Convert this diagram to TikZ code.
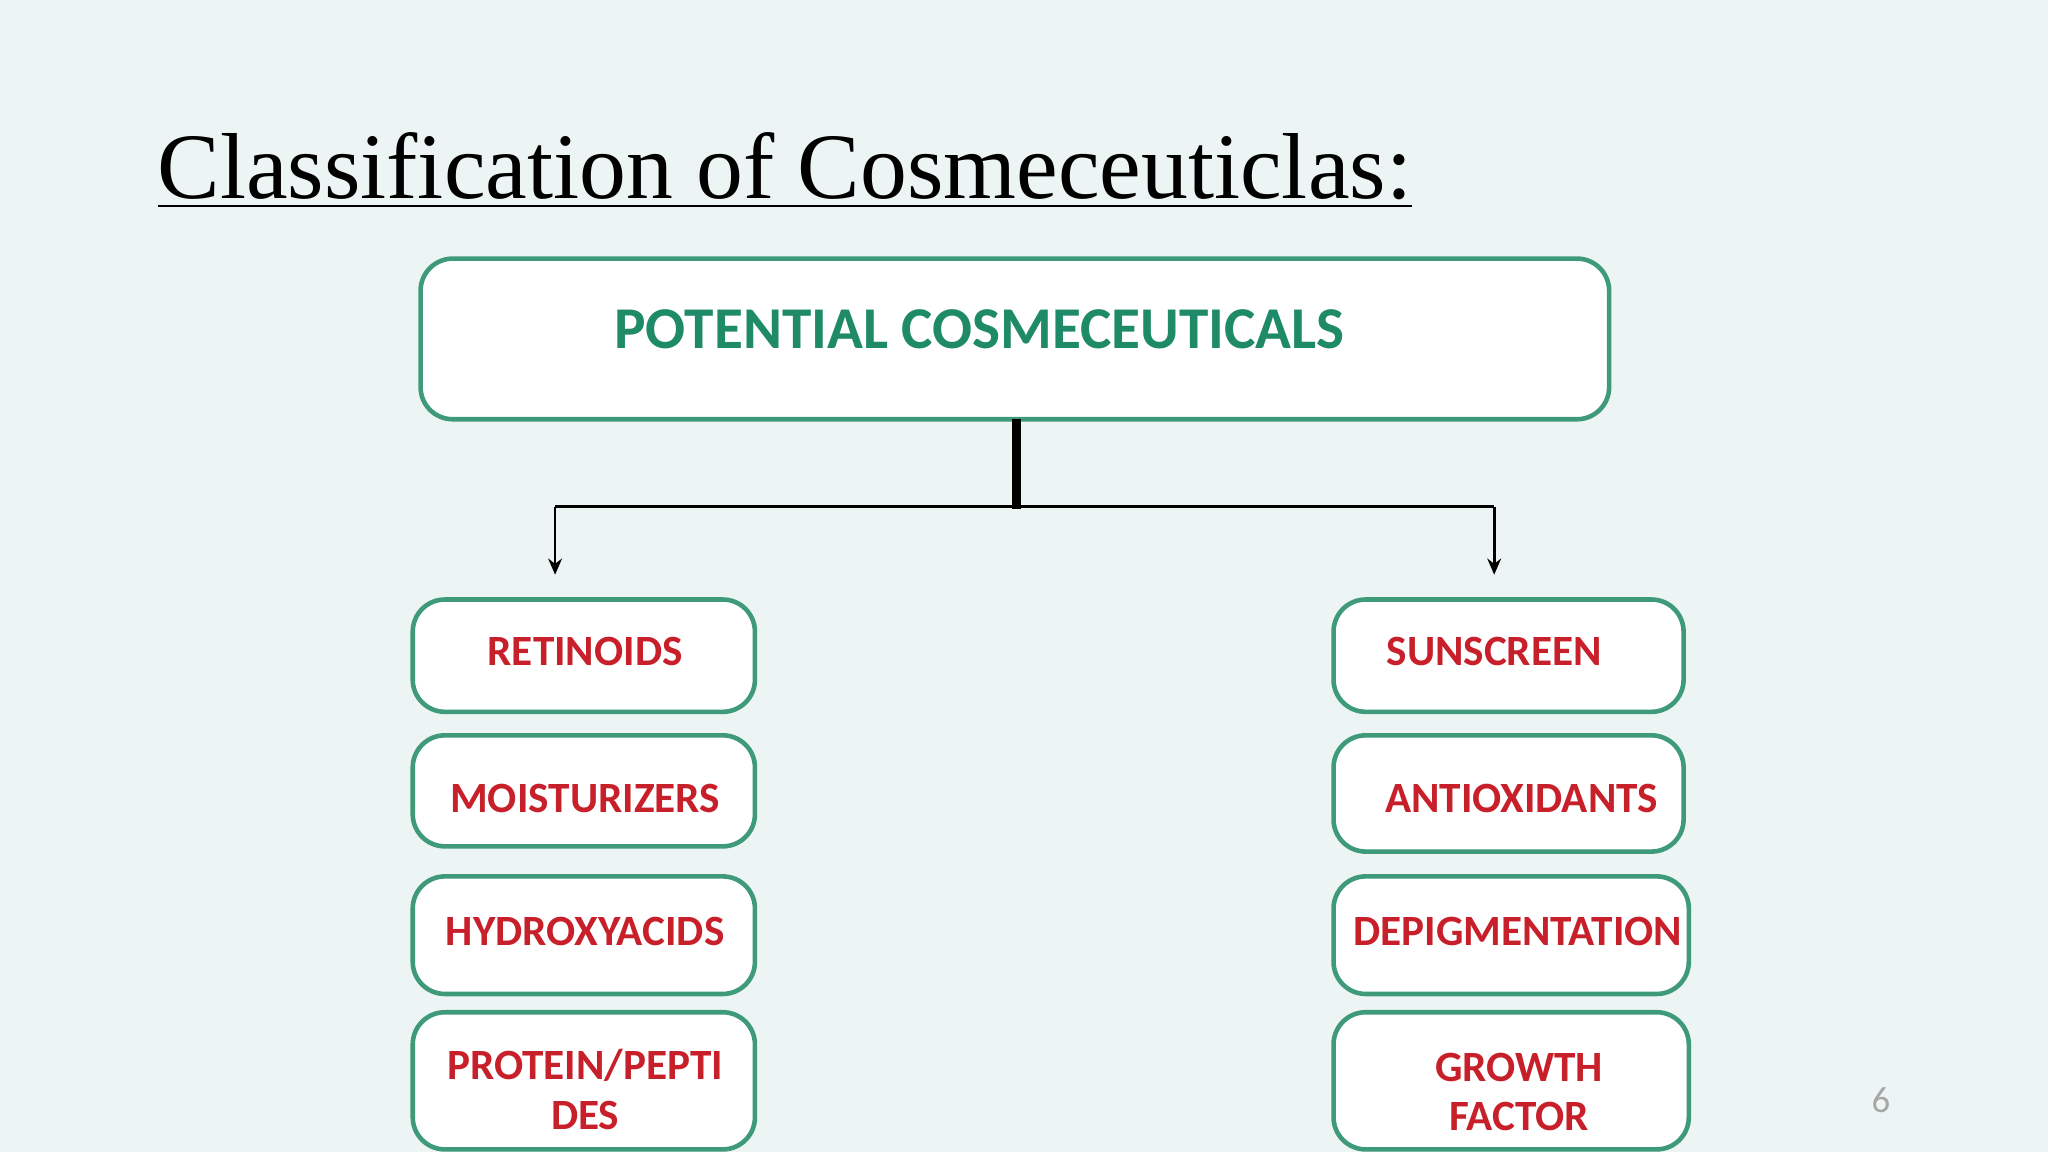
\documentclass[tikz,border=0pt]{standalone}
\usepackage{fontspec}
\setmainfont{Liberation Serif}
\newfontfamily\carlitofont{Carlito}
\usetikzlibrary{arrows.meta}
\definecolor{bg}{HTML}{EDF5F4}
\definecolor{gr}{HTML}{3E9A78}
\definecolor{gtxt}{HTML}{1E8A68}
\definecolor{rd}{HTML}{C8202A}
\begin{document}
\begin{tikzpicture}[x=0.01cm,y=-0.01cm,
  box/.style={draw=gr,line width=1pt,rounded corners=7pt,fill=white},
  lbl/.style={font=\carlitofont\bfseries\fontsize{9.4}{10.8}\selectfont,text=rd,align=center},
  conn/.style={line width=0.6pt,-{Stealth[length=3.5pt,width=3pt]}}]
\fill[bg] (0,0) rectangle (1568,882);
\useasboundingbox (0,0) rectangle (1568,882);
\node[anchor=base west,inner sep=0,font=\fontsize{20.4}{24}\selectfont] (title) at (120,152) {\underline{Classification of Cosmeceuticlas:}};
\draw[box] (322,198) rectangle (1232,321);
\node[font=\carlitofont\bfseries\fontsize{12.9}{16}\selectfont,text=gtxt] (top) at (750,252) {POTENTIAL COSMECEUTICALS};
\coordinate (tb) at (778,321);
\coordinate (j) at (778,390);
\coordinate (jl) at (425,388);
\coordinate (jr) at (1144,388);
\coordinate (al) at (425,440);
\coordinate (ar) at (1144,440);
\draw[line width=2pt] (tb) -- (j);
\draw[line width=0.6pt] (jl) -- (jr);
\draw[conn] (jl) -- (al);
\draw[conn] (jr) -- (ar);
% left
\draw[box] (316,459) rectangle (578,545);
\draw[box] (316,563) rectangle (578,648);
\draw[box] (316,671) rectangle (578,761);
\draw[box] (316,775) rectangle (578,880);
\node[lbl] (l1) at (448,499) {RETINOIDS};
\node[lbl] (l2) at (448,611) {MOISTURIZERS};
\node[lbl] (l3) at (448,713) {HYDROXYACIDS};
\node[lbl] (l4) at (448,834) {PROTEIN/PEPTI\\DES};
% right
\draw[box] (1021,459) rectangle (1289,545);
\draw[box] (1021,563) rectangle (1289,652);
\draw[box] (1021,671) rectangle (1293,761);
\draw[box] (1021,775) rectangle (1293,880);
\node[lbl] (r1) at (1144,499) {SUNSCREEN};
\node[lbl] (r2) at (1165,611) {ANTIOXIDANTS};
\node[lbl] (r3) at (1162,713) {DEPIGMENTATION};
\node[lbl] (r4) at (1163,836) {GROWTH\\FACTOR};
\node[font=\carlitofont\fontsize{8}{10}\selectfont,text=gray!70] (pg) at (1440,842) {6};
\end{tikzpicture}
\end{document}
